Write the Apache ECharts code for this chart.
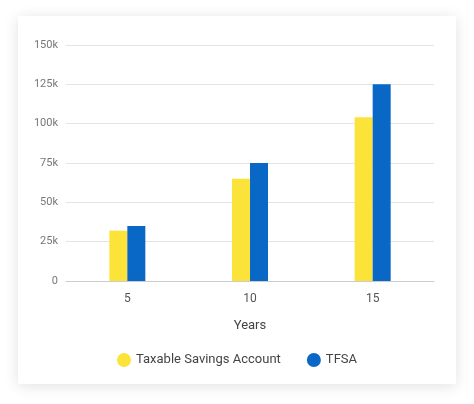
<!DOCTYPE html>
<html><head><meta charset="utf-8">
<script src="https://cdn.jsdelivr.net/npm/echarts@6/dist/echarts.min.js"></script>
<style>
body{margin:0;background:#fff;}
#card{position:absolute;left:18px;top:16px;width:438px;height:368px;background:#fff;box-shadow:0 2px 14px rgba(0,0,0,0.12);}
#chart{width:438px;height:368px;}
</style></head><body>
<div id="card"><div id="chart"></div></div>
<script>
const years = ['5', '10', '15'];
const taxable = [32000, 65000, 104000];
const tfsa = [35000, 75000, 125000];

const chart = echarts.init(document.getElementById('chart'));
chart.setOption({
    animation: false,
    grid: { left: 48, right: 22, top: 29, bottom: 103 },
    legend: {
        bottom: 12,
        itemWidth: 14, itemHeight: 14, itemGap: 26,
        icon: 'circle',
        textStyle: { fontFamily: 'Roboto', fontSize: 13, color: '#444' },
        data: ['Taxable Savings Account', 'TFSA']
    },
    xAxis: {
        type: 'category',
        data: years,
        name: 'Years',
        nameLocation: 'middle',
        nameGap: 38,
        nameTextStyle: { fontFamily: 'Roboto', fontSize: 13, color: '#444' },
        axisLine: { lineStyle: { color: '#ccc' } },
        axisTick: { show: false },
        axisLabel: { fontFamily: 'Roboto', fontSize: 12, color: '#555', margin: 12 }
    },
    yAxis: {
        type: 'value',
        min: 0, max: 150000, interval: 25000,
        axisLabel: {
            fontFamily: 'Roboto', fontSize: 11, color: '#777',
            formatter: v => v === 0 ? '0' : (v / 1000) + 'k'
        },
        splitLine: { lineStyle: { color: '#e3e3e3' } }
    },
    series: [
        { name: 'Taxable Savings Account', type: 'bar', data: taxable, barWidth: 18, barGap: '0%', itemStyle: { color: '#FCE33A' } },
        { name: 'TFSA', type: 'bar', data: tfsa, barWidth: 18, itemStyle: { color: '#0967C6' } }
    ]
});
</script>
</body></html>
